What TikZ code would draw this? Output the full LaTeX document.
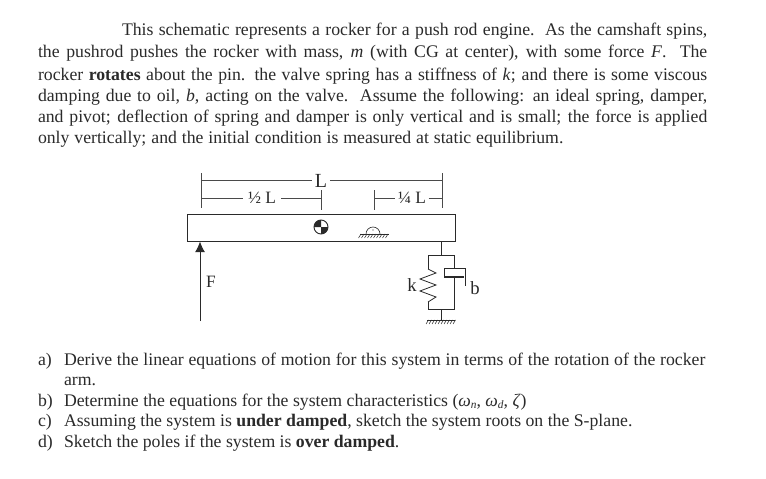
\documentclass[tikz,border=0pt]{standalone}
\usepackage{fontspec}
\setmainfont{Liberation Serif}
\usetikzlibrary{arrows.meta}
\definecolor{ink}{HTML}{2A2A2A}
\tikzset{
  para/.style={anchor=base west,inner sep=0pt,outer sep=0pt,font=\fontsize{13.3}{15}\selectfont,text=ink},
  diag/.style={inner sep=0pt,outer sep=0pt,font=\fontsize{13}{15}\selectfont,text=ink},
  lin/.style={draw=ink,line width=0.6pt},
  thin lin/.style={draw=ink!85,line width=0.45pt},
  hatchline/.style={draw=ink,line width=0.4pt}
}
\newcommand{\jl}[2]{\makebox[#1][s]{#2}}
\newcommand{\subx}[1]{\raisebox{-0.25ex}{\fontsize{8.5}{10}\selectfont\textit{#1}}}
\begin{document}
\begin{tikzpicture}[x=0.75pt,y=-0.75pt]
\useasboundingbox (0,0) rectangle (766,478);
\fill[white] (0,0) rectangle (766,478);
% paragraph
\node[para] (p1) at (122,36) {\jl{439pt}{This schematic represents a rocker for a push rod engine.\ \ As the camshaft spins,}};
\node[para] (p2) at (38,58) {\jl{502pt}{the pushrod pushes the rocker with mass, \textit{m} (with CG at center), with some force \textit{F}.\ \ The}};
\node[para] (p3) at (38,80) {\jl{502pt}{rocker \textbf{rotates} about the pin. the valve spring has a stiffness of \textit{k}; and there is some viscous}};
\node[para] (p4) at (38,101) {\jl{502pt}{damping due to oil, \textit{b}, acting on the valve.\ \ Assume the following: an ideal spring, damper,}};
\node[para] (p5) at (38,122) {\jl{502pt}{and pivot; deflection of spring and damper is only vertical and is small; the force is applied}};
\node[para] (p6) at (38,143) {\jl{394pt}{only vertically; and the initial condition is measured at static equilibrium.}};
% beam
\node[draw=ink,line width=0.6pt,minimum width=201pt,minimum height=20.25pt,inner sep=0pt,fill=white] (beam) at (321,227.5) {};
% dimensions
\draw[thin lin] (201,173) -- (201,208);
\draw[thin lin] (442,173) -- (442,208);
\draw[thin lin] (321,190) -- (321,210);
\draw[thin lin] (374,190) -- (374,210);
\node[diag,font=\fontsize{15}{17}\selectfont] (L) at (321,181) {L};
\draw[thin lin] (201,180) -- ([xshift=-2pt]L.west|-201,180);
\draw[thin lin] ([xshift=2pt]L.east|-442,180) -- (442,180);
\node[diag] (half) at (262,198) {½ L};
\draw[thin lin] (201,198) -- ([xshift=-4pt]half.west);
\draw[thin lin] ([xshift=4pt]half.east) -- (321,198);
\node[diag] (quart) at (412,198) {¼ L};
\draw[thin lin] (374,198) -- ([xshift=-2pt]quart.west);
\draw[thin lin] ([xshift=2pt]quart.east) -- (442,198);
% CG symbol
\coordinate (cg) at (321,227);
\draw[ink,line width=0.7pt,fill=white] (cg) circle (7);
\fill[ink] (cg) -- ++(-7,0) arc (180:270:7) -- cycle;
\fill[ink] (cg) -- ++(7,0) arc (0:90:7) -- cycle;
% pivot
\coordinate (piv) at (373,234);
\draw[lin,line width=0.45pt] (366,234) arc (180:360:7);
\fill[ink] (373,230) circle (0.7);
\draw[lin] (360,234) -- (389,234);
\foreach \i in {0,...,9} \draw[hatchline] (361+\i*3,234) -- ++(-2.5,4);
% force
\coordinate (fTop) at (200,241.5); \coordinate (fBot) at (200,321);
\draw[ink,line width=0.7pt,-{Latex[length=8pt,width=7.5pt]}] (fBot) -- (fTop);
\node[diag] (F) at (211,282) {F};
% spring-damper
\coordinate (stemT) at (441,241.5);
\coordinate (top) at (441,255);
\coordinate (botM) at (441,309);
\coordinate (gnd) at (441,320);
\draw[lin] (stemT) -- (top);
\draw[lin] (428,269) -- (428,255) -- (454,255) -- (454,268);
\draw[lin] (428,302) -- (428,309) -- (454,309) -- (454,277);
\draw[lin] (428,269) -- (436,273) -- (420,279) -- (436,285) -- (420,291) -- (436,297) -- (428,302);
\draw[lin,line width=0.7pt] (444,277) -- (444,268) -- (465,268) -- (465,286);
\draw[lin,line width=0.9pt] (444,277) -- (464,277);
\draw[lin] (botM) -- (gnd);
\draw[lin] (427,320) -- (455,320);
\foreach \i in {0,...,9} \draw[hatchline] (428.5+\i*3,320) -- ++(-2.5,4);
\node[diag,font=\fontsize{14}{16}\selectfont] (k) at (412,285) {k};
\node[diag,font=\fontsize{14}{16}\selectfont] (b) at (475,288) {b};
% questions
\node[para] (qa) at (38,365) {a)};
\node[para] (a1) at (64,365) {\jl{481pt}{Derive the linear equations of motion for this system in terms of the rotation of the rocker}};
\node[para] (a2) at (64,385) {arm.};
\node[para] (qb) at (38,406) {b)};
\node[para] (b1) at (64,406) {Determine the equations for the system characteristics (\textit{ω}\subx{n}, \textit{ω}\subx{d}, \textit{ζ})};
\node[para] (qc) at (38,426) {c)};
\node[para] (c1) at (64,426) {Assuming the system is \textbf{under damped}, sketch the system roots on the S-plane.};
\node[para] (qd) at (38,447) {d)};
\node[para] (d1) at (64,447) {Sketch the poles if the system is \textbf{over damped}.};
\end{tikzpicture}
\end{document}
